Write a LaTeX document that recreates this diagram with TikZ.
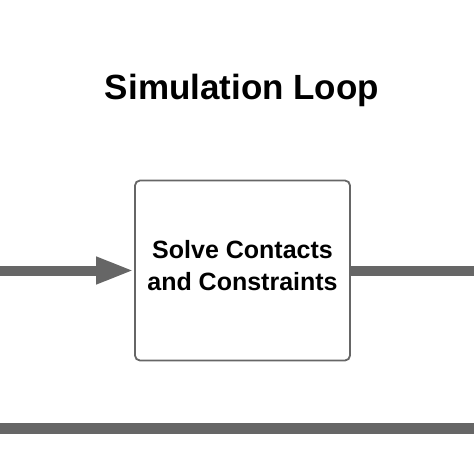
\documentclass[tikz,border=0pt]{standalone}
\usepackage{fontspec}
\setmainfont{Liberation Sans}
\usetikzlibrary{arrows.meta}
\definecolor{linegray}{HTML}{666666}
\tikzset{
  flow/.style={draw=linegray, line width=10pt},
  procbox/.style={draw=linegray, line width=1.8pt, rounded corners=5pt, fill=white,
    minimum width=215pt, minimum height=180pt, inner sep=0pt},
  boxtext/.style={inner sep=0pt, align=center,
    font=\fontsize{25pt}{32pt}\selectfont\bfseries},
  titletext/.style={font=\fontsize{35pt}{40pt}\selectfont\bfseries, anchor=base}
}
\begin{document}
\begin{tikzpicture}[x=1pt,y=-1pt]
\useasboundingbox (0,0) rectangle (474,474);
\node[titletext] (title) at (242,99) {Simulation Loop};
\node[procbox] (solve) at (242.5,270.5) {};
\node[boxtext] (solvetext) at (242.5,266) {Solve Contacts\\and Constraints};
\coordinate (inL) at (0,270.5);
\coordinate (outR) at (474,270.5);
\coordinate (botL) at (0,428);
\coordinate (botR) at (474,428);
\draw[flow, -{Triangle[length=38pt,width=25pt]}] (inL) -- (solve.west);
\draw[flow] (solve.east) -- (outR);
\draw[flow, line width=11pt] (botL) -- (botR);
\end{tikzpicture}
\end{document}
